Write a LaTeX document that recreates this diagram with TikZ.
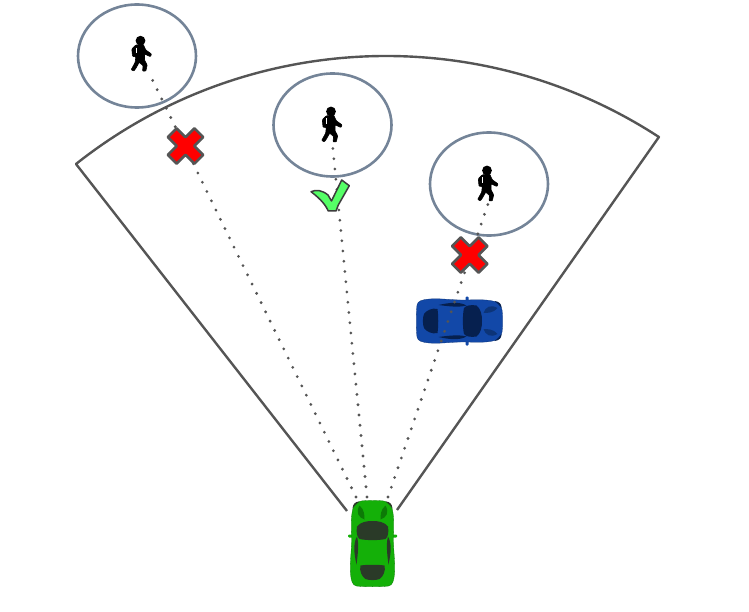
\documentclass[tikz,border=0pt]{standalone}
\usetikzlibrary{shapes.geometric}

\definecolor{fovgrey}{HTML}{555555}
\definecolor{bubbleblue}{HTML}{748498}
\definecolor{egogreen}{HTML}{14B008}
\definecolor{egoglass}{HTML}{2A3A28}
\definecolor{egoshade}{HTML}{0C7A06}
\definecolor{otherblue}{HTML}{1248A8}
\definecolor{otherglass}{HTML}{06204F}
\definecolor{othershade}{HTML}{0C3478}
\definecolor{tickgreen}{HTML}{55FF66}

\tikzset{
    fovline/.style={draw=fovgrey, line width=2.4pt},
    bubble/.style={ellipse, draw=bubbleblue, line width=2.6pt, minimum width=118pt, minimum height=103pt, inner sep=0pt},
    sightline/.style={draw=fovgrey, line width=3.1pt, line cap=round, dash pattern=on 0pt off 10.3pt},
    pics/walker/.style={code={
        \fill[black] (0,0) circle (4.9);
        \filldraw[black, line width=0.6pt, rounded corners=0.7pt, scale=1/3] (-14,13) -- (8,11) -- (16,28) -- (33,40) -- (30,48) -- (12,40) -- (12,58) -- (20,73) -- (16,91) -- (6,91) -- (8,75) -- (-4,65) -- (-14,83) -- (-20,91) -- (-28,87) -- (-16,65) -- (-14,48) -- (-24,47) -- (-26,25) -- cycle;
        \draw[white, line width=0.5pt] (-4.5,7) -- (-4.5,12.5);
    }},
    pics/crossmark/.style={code={
        \draw[rotate=45, fill=red, draw=fovgrey, line width=2.6pt, line join=round] (-6.2,-18.8) -- (6.2,-18.8) -- (6.2,-6.2) -- (18.8,-6.2) -- (18.8,6.2) -- (6.2,6.2) -- (6.2,18.8) -- (-6.2,18.8) -- (-6.2,6.2) -- (-18.8,6.2) -- (-18.8,-6.2) -- (-6.2,-6.2) -- cycle;
    }},
    pics/carbody/.style n args={3}{code={
        % mirrors
        \fill[#1, rounded corners=1pt] (-24.5,-9) rectangle (24.5,-6);
        % body
        \fill[#1, draw=#3, line width=0.3pt] (0,-43) .. controls (-8,-43) and (-15,-43.5) .. (-18.5,-38) .. controls (-21.5,-31) and (-21.5,-20) .. (-21,-8) .. controls (-20.5,5) and (-23,20) .. (-22,30) .. controls (-21.5,37) and (-20,42) .. (-16,42.5) .. controls (-8,43.5) and (8,43.5) .. (16,42.5) .. controls (20,42) and (21.5,37) .. (22,30) .. controls (23,20) and (20.5,5) .. (21,-8) .. controls (21.5,-20) and (21.5,-31) .. (18.5,-38) .. controls (15,-43.5) and (8,-43) .. (0,-43) -- cycle;
        % windows
        \fill[#2] (-15.5,-17) .. controls (-12,-21.5) and (-6,-22.5) .. (0,-22.5) .. controls (6,-22.5) and (12,-21.5) .. (15.5,-17) .. controls (16.5,-11) and (15.5,-6.5) .. (13,-4.5) .. controls (6,-3) and (-6,-3) .. (-13,-4.5) .. controls (-15.5,-6.5) and (-16.5,-11) .. (-15.5,-17) -- cycle;
        \fill[#2] (-12,22) .. controls (-5,21) and (5,21) .. (12,22) .. controls (13.5,27) and (10.5,33.5) .. (7,35.5) .. controls (3,37) and (-3,37) .. (-7,35.5) .. controls (-10.5,33.5) and (-13.5,27) .. (-12,22) -- cycle;
        \foreach \s in {-1,1} {
            \fill[#2] (\s*15.5,-7) .. controls (\s*19.5,0) and (\s*18.5,10) .. (\s*16,21) .. controls (\s*14.5,10) and (\s*13.5,0) .. (\s*15.5,-7) -- cycle;
            \fill[#3] (\s*13,-38) .. controls (\s*8,-34) and (\s*8,-28) .. (\s*8,-24) .. controls (\s*14,-26) and (\s*17,-31) .. (\s*13,-38) -- cycle;
            \fill[#2] (\s*13,-42) .. controls (\s*17,-42) and (\s*19.5,-40) .. (\s*20,-35) .. controls (\s*18,-38) and (\s*16,-39.5) .. (\s*13,-42) -- cycle;
        }
    }},
}

\begin{document}
\begin{tikzpicture}[x=1pt, y=-1pt]
    \useasboundingbox (0,0) rectangle (749,612);

    % field of view
    \coordinate (fovleft) at (347,511);
    \coordinate (fovtopleft) at (76,164);
    \coordinate (fovtopright) at (659,137);
    \coordinate (fovright) at (397,510);
    \draw[fovline, line join=round] (fovleft) -- (fovtopleft) arc[start angle=231.6, end angle=303.1, radius=499.4] -- (fovright);

    % pedestrians
    \node[bubble] (bubbleleft) at (137,56) {};
    \node[bubble] (bubblemid) at (332.5,125) {};
    \node[bubble] (bubbleright) at (489,184) {};

    \pic at (140.5,40.7) {walker};
    \pic at (331,111.5) {walker};
    \pic at (487,170.5) {walker};

    % lines of sight
    \coordinate (feetleft) at (150,75);
    \coordinate (feetmid) at (332,140);
    \coordinate (feetright) at (488,204);
    \coordinate (egoleft) at (356,497);
    \coordinate (egomid) at (367,497);
    \coordinate (egoright) at (388,497);

    \pic at (459.5,321) [rotate=-90] {carbody={otherblue}{otherglass}{othershade}};

    \draw[sightline] (egoleft) -- (feetleft);
    \draw[sightline] (egomid) -- (feetmid);
    \draw[sightline] (egoright) -- (feetright);

    % verdicts
    \pic at (185.5,146) {crossmark};
    \pic at (469.7,255) {crossmark};
    \draw[fill=tickgreen, draw=fovgrey!70!black, line width=1.5pt, line join=round] (311,191.7) .. controls (316,189.5) and (322,190) .. (328,195) -- (331.5,201) -- (341.7,180) -- (349.3,185.7) -- (338.3,205) -- (336,211) -- (328.3,211) .. controls (326,206) and (322,200) .. (311,191.7) -- cycle;

    % ego car
    \pic at (372.5,543.5) {carbody={egogreen}{egoglass}{egoshade}};
\end{tikzpicture}
\end{document}
